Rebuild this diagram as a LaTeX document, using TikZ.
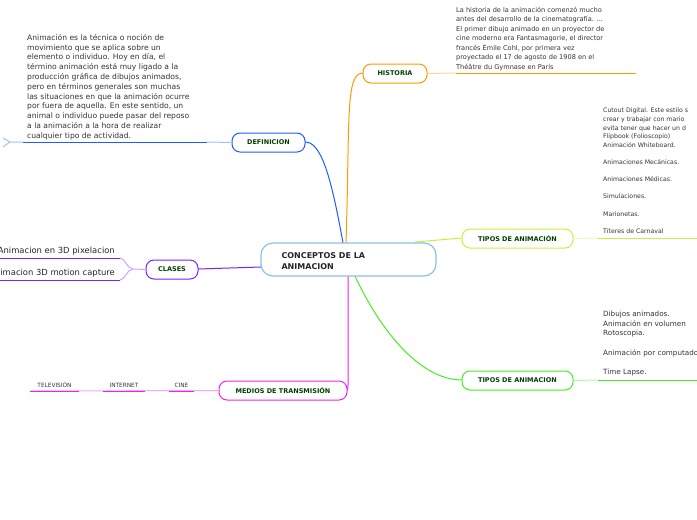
\documentclass[tikz,border=0pt]{standalone}
\usepackage{fontspec}
\setmainfont{DejaVu Sans}
\begin{document}
\begin{tikzpicture}[x=1pt,y=-1pt,
  topic/.style={draw,line width=1pt,rounded corners=8pt,fill=white,minimum height=19pt,font=\fontsize{6.5}{7}\selectfont\bfseries,text=green!25!black,inner sep=2pt},
  para/.style={anchor=north west,align=left,inner sep=0pt,text=black!80},
  br/.style={line width=1pt}]
\useasboundingbox (0,0) rectangle (697,520);
\definecolor{cOr}{HTML}{FF9900}\definecolor{cBl}{HTML}{1F5BFF}\definecolor{cYe}{HTML}{CCF03C}
\definecolor{cGr}{HTML}{44EE22}\definecolor{cPu}{HTML}{7A22FF}\definecolor{cPk}{HTML}{EE22EE}
\definecolor{cCe}{HTML}{8CC0E8}
% connectors
\coordinate (c1) at (346,243);
\draw[cOr,line width=1pt] (c1) .. controls (350,120) and (345,73) .. (363,73);
\draw[cBl,line width=1pt] (343,243) .. controls (330,170) and (320,142) .. (305,142);
\draw[cYe,line width=1pt] (415,242) -- (462,238);
\draw[cGr,line width=1pt] (355,276) .. controls (380,330) and (420,380) .. (462,380);
\draw[cPu,line width=1pt] (261,267) -- (198,269);
\draw[cPk,line width=1pt] (348,276) -- (348,385) .. controls (348,390) .. (343,391);
% center
\node[draw=cCe,line width=1.2pt,rounded corners=12pt,fill=white,minimum width=175pt,minimum height=33pt] (ctr) at (348.5,259.5) {};
\node[anchor=west,align=left,font=\fontsize{8}{10.5}\selectfont\bfseries,text=black!85] at (278,261) {CONCEPTOS DE LA\\ANIMACION};
% HISTORIA
\node[topic,draw=cOr,minimum width=64pt] (his) at (395,73.5) {HISTORIA};
\draw[cOr!40,line width=1pt] (his.east) -- (456,73);
\draw[cOr,line width=1pt] (456,73) -- (636,73);
\node[para,font=\fontsize{6.6}{9.5}\selectfont] at (456,7) {La historia de la animación comenzó mucho\\antes del desarrollo de la cinematografía. ...\\El primer dibujo animado en un proyector de\\cine moderno era Fantasmagorie, el director\\francés Émile Cohl, por primera vez\\proyectado el 17 de agosto de 1908 en el\\Théâtre du Gymnase en París};
% DEFINICION
\node[topic,draw=cBl,minimum width=73pt] (def) at (268.5,142.5) {DEFINICION};
\draw[cBl!40,line width=1pt] (def.west) -- (207,142);
\draw[cBl,line width=1pt] (207,142) -- (23,142);
\draw[cBl!40,line width=1pt] (23,142) -- (10,142) -- (3,138) (10,142) -- (3,147);
\node[para,font=\fontsize{7.6}{9.8}\selectfont] at (27,34) {Animación es la técnica o noción de\\movimiento que se aplica sobre un\\elemento o individuo. Hoy en día, el\\término animación está muy ligado a la\\producción gráfica de dibujos animados,\\pero en términos generales son muchas\\las situaciones en que la animación ocurre\\por fuera de aquella. En este sentido, un\\animal o individuo puede pasar del reposo\\a la animación a la hora de realizar\\cualquier tipo de actividad.};
% TIPOS yellow
\node[topic,draw=cYe,minimum width=111pt] (ty) at (517.5,238.5) {TIPOS DE ANIMACIÓN};
\draw[cYe!40,line width=1pt] (ty.east) -- (598,238);
\draw[cYe,line width=1pt] (598,238) -- (697,238);
\node[para,font=\fontsize{6.2}{8.6}\selectfont] at (603,108) {Cutout Digital. Este estilo s\\crear y trabajar con mario\\evita tener que hacer un d\\Flipbook (Folioscopio)\\Animación Whiteboard.\\[8.6pt]Animaciones Mecánicas.\\[8.6pt]Animaciones Médicas.\\[8.6pt]Simulaciones.\\[8.6pt]Marionetas.\\[8.6pt]Títeres de Carnaval};
% TIPOS green
\node[topic,draw=cGr,minimum width=111pt] (tg) at (517.5,380.5) {TIPOS DE ANIMACION};
\draw[cGr!40,line width=1pt] (tg.east) -- (598,380);
\draw[cGr,line width=1pt] (598,380) -- (697,380);
\node[para,font=\fontsize{7.2}{9.6}\selectfont] at (603,311) {Dibujos animados.\\Animación en volumen\\Rotoscopia.\\[9.6pt]Animación por computadora\\[9.6pt]Time Lapse.};
% CLASES
\node[topic,draw=cPu,minimum width=52pt] (cl) at (172,269.5) {CLASES};
\draw[cPu!40,line width=1pt] (cl.west) -- (133,269) .. controls (127,269) and (125,258) .. (120,258) (133,269) .. controls (127,269) and (125,280) .. (120,280);
\draw[cPu,line width=1pt] (120,258) -- (0,258) (120,280) -- (0,280);
\node[anchor=south east,inner sep=1pt,font=\fontsize{8.4}{9}\selectfont,text=black!85] at (116,256) {Animacion en 3D pixelacion};
\node[anchor=south east,inner sep=1pt,font=\fontsize{8.4}{9}\selectfont,text=black!85] at (116,278) {Animacion 3D motion capture};
% MEDIOS
\node[topic,draw=cPk,minimum width=128pt] (med) at (283,390.5) {MEDIOS DE TRANSMISIÓN};
\draw[cPk!40,line width=1pt] (med.west) -- (30,391);
\draw[cPk,line width=1pt] (30,391) -- (79,391) (103,391) -- (145,391) (169,391) -- (194,391);
\node[anchor=south,inner sep=1pt,font=\fontsize{5.8}{7}\selectfont,text=black!80] at (54.5,389) {TELEVISIÓN};
\node[anchor=south,inner sep=1pt,font=\fontsize{5.8}{7}\selectfont,text=black!80] at (124,389) {INTERNET};
\node[anchor=south,inner sep=1pt,font=\fontsize{5.8}{7}\selectfont,text=black!80] at (181.5,389) {CINE};
\end{tikzpicture}
\end{document}
